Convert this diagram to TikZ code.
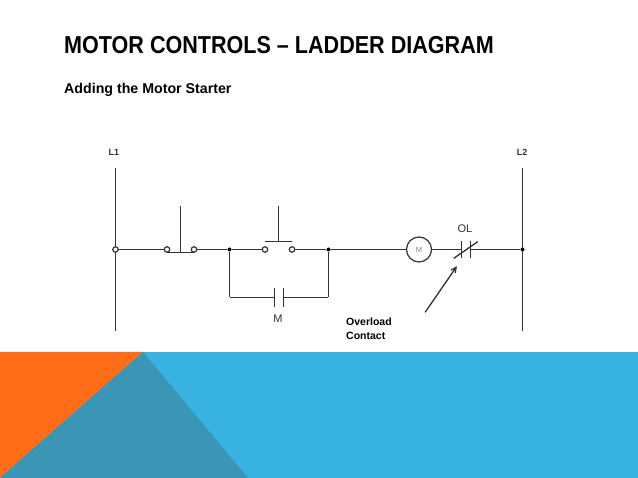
\documentclass[tikz,border=0pt]{standalone}
\usepackage{fontspec}
\setmainfont{Liberation Sans}
\newfontfamily\titlefont[FakeStretch=0.88]{Liberation Sans}
\usepackage{tikz}
\usetikzlibrary{arrows.meta}
\definecolor{naranja}{RGB}{255, 109, 24}
\definecolor{azul}{RGB}{56, 178, 224}
\definecolor{petroleo}{RGB}{59, 149, 181}
\definecolor{linea}{RGB}{50, 50, 50}
\tikzset{
    wire/.style={draw=linea, line width=1.3pt},
    term/.style={circle, draw=linea, fill=white, line width=1.2pt, inner sep=0pt, minimum size=5.5pt},
    dot/.style={circle, fill=black, inner sep=0pt, minimum size=4pt},
    pin/.style={inner sep=0pt, minimum size=0pt},
    etiq/.style={inner sep=0pt, text=linea},
    motor/.style={circle, draw=linea, fill=white, line width=1.2pt, inner sep=0pt, minimum size=25pt, font=\fontsize{7.5}{8}\selectfont, text=gray},
}
\begin{document}
\begin{tikzpicture}[x=1pt, y=-1pt]
    \useasboundingbox (0,0) rectangle (638,478);
    % background
    \fill[white] (0,0) rectangle (638,478);
    \fill[azul] (0,352) rectangle (638,478);
    \fill[naranja] (0,352) -- (143,352) -- (0,478) -- cycle;
    \fill[petroleo] (143,352) -- (248,478) -- (0,478) -- cycle;

    % texts
    \node[etiq, anchor=west, text=black, font=\titlefont\bfseries\fontsize{24.5}{26}\selectfont] (title) at (64,45.5) {MOTOR CONTROLS – LADDER DIAGRAM};
    \node[etiq, anchor=west, text=black, font=\bfseries\fontsize{14.2}{16}\selectfont] (sub) at (64,90) {Adding the Motor Starter};
    \node[etiq, font=\bfseries\fontsize{9}{10}\selectfont] (l1) at (114,152) {L1};
    \node[etiq, font=\bfseries\fontsize{9}{10}\selectfont] (l2) at (522,152) {L2};
    \node[etiq, font=\fontsize{11}{13}\selectfont] (mlabel) at (278,319) {M};
    \node[etiq, font=\fontsize{11}{13}\selectfont] (ol) at (465,229) {OL};
    \node[etiq, anchor=north west, align=left, text=black, font=\bfseries\fontsize{10.5}{13.5}\selectfont] (over) at (346,318) {Overload\\Contact};

    % rails
    \node[pin] (l1top) at (115.5,168) {};
    \node[pin] (l1bot) at (115.5,331) {};
    \node[pin] (l2top) at (522.5,168) {};
    \node[pin] (l2bot) at (522.5,331) {};
    \draw[wire] (l1top) -- (l1bot);
    \draw[wire] (l2top) -- (l2bot);

    % rung nodes
    \node[term] (start) at (115.5,249.5) {};
    \node[term] (nc1) at (167,249.5) {};
    \node[term] (nc2) at (194,249.5) {};
    \node[dot] (j1) at (229.5,249.5) {};
    \node[term] (no1) at (265,249.5) {};
    \node[term] (no2) at (292,249.5) {};
    \node[dot] (j2) at (328.5,249.5) {};
    \node[motor] (mot) at (419,249.5) {M};
    \node[pin] (ola) at (461.5,249.5) {};
    \node[pin] (olb) at (470.5,249.5) {};
    \node[dot] (end) at (522.5,249.5) {};

    \draw[wire] (start) -- (nc1);
    \draw[wire] (nc2) -- (j1);
    \draw[wire] (j1) -- (no1);
    \draw[wire] (no2) -- (j2);
    \draw[wire] (j2) -- (mot);
    \draw[wire] (mot) -- (ola.center);
    \draw[wire] (olb.center) -- (end);

    % normally closed button
    \node[pin] (ncl) at (167,252.5) {};
    \node[pin] (ncr) at (194,252.5) {};
    \node[pin] (ncm) at (180.5,252.5) {};
    \node[pin] (nct) at (180.5,206) {};
    \draw[wire] (ncl) -- (ncr);
    \draw[wire] (nct) -- (ncm);

    % normally open button
    \node[pin] (nol) at (265,241.5) {};
    \node[pin] (nor) at (292,241.5) {};
    \node[pin] (nom) at (278.5,241.5) {};
    \node[pin] (not) at (278.5,206) {};
    \draw[wire] (nol) -- (nor);
    \draw[wire] (not) -- (nom);

    % holding contact
    \node[pin] (b1) at (229.5,297.5) {};
    \node[pin] (b2) at (274.5,297.5) {};
    \node[pin] (b3) at (283.5,297.5) {};
    \node[pin] (b4) at (328.5,297.5) {};
    \node[pin] (p1a) at (274.5,288) {};
    \node[pin] (p1b) at (274.5,307) {};
    \node[pin] (p2a) at (283.5,288) {};
    \node[pin] (p2b) at (283.5,307) {};
    \draw[wire] (j1) -- (b1) -- (b2);
    \draw[wire] (j2) -- (b4) -- (b3);
    \draw[wire] (p1a) -- (p1b);
    \draw[wire] (p2a) -- (p2b);

    % overload contact
    \node[pin] (q1a) at (461.5,241) {};
    \node[pin] (q1b) at (461.5,258) {};
    \node[pin] (q2a) at (470.5,241) {};
    \node[pin] (q2b) at (470.5,258) {};
    \node[pin] (s1) at (453.5,258.5) {};
    \node[pin] (s2) at (478,241.5) {};
    \draw[wire] (q1a) -- (q1b);
    \draw[wire] (q2a) -- (q2b);
    \draw[wire] (s1) -- (s2);

    \node[pin] (a1) at (425,312.5) {};
    \node[pin] (a2) at (457,266) {};
    \draw[wire, -{Straight Barb[length=5pt, width=5pt]}] (a1) -- (a2);
\end{tikzpicture}
\end{document}
